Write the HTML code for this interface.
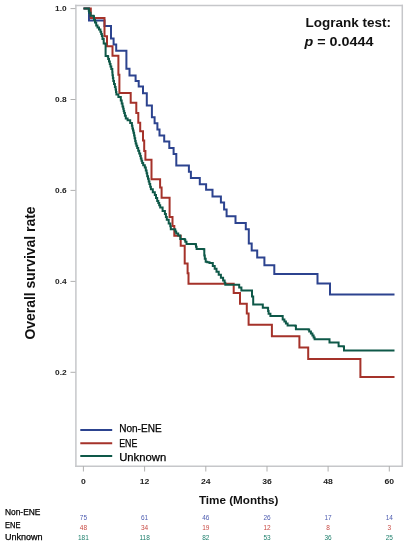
<!DOCTYPE html>
<html><head><meta charset="utf-8"><title>Kaplan-Meier survival</title>
<style>html,body{margin:0;padding:0;background:#fff;width:407px;height:550px;overflow:hidden}svg{display:block}</style>
</head><body>
<svg width="407" height="550" viewBox="0 0 407 550">
<rect width="407" height="550" fill="#fff"/>
<g stroke="#c6c7ca" stroke-width="1.5" fill="none">
<line x1="75.9" x2="75.9" y1="4.7" y2="467"/>
<line x1="75.1" x2="403" y1="5.4" y2="5.4"/>
<line x1="402.3" x2="402.3" y1="4.7" y2="467"/>
<line x1="75.1" x2="403" y1="466.3" y2="466.3"/>
</g>
<line x1="70.5" x2="75.5" y1="8.6" y2="8.6" stroke="#b0b0b0" stroke-width="1"/>
<line x1="70.5" x2="75.5" y1="99.5" y2="99.5" stroke="#b0b0b0" stroke-width="1"/>
<line x1="70.5" x2="75.5" y1="190.4" y2="190.4" stroke="#b0b0b0" stroke-width="1"/>
<line x1="70.5" x2="75.5" y1="281.4" y2="281.4" stroke="#b0b0b0" stroke-width="1"/>
<line x1="70.5" x2="75.5" y1="372.3" y2="372.3" stroke="#b0b0b0" stroke-width="1"/>
<line x1="83.4" x2="83.4" y1="466" y2="471.5" stroke="#b0b0b0" stroke-width="1"/>
<line x1="144.6" x2="144.6" y1="466" y2="471.5" stroke="#b0b0b0" stroke-width="1"/>
<line x1="205.8" x2="205.8" y1="466" y2="471.5" stroke="#b0b0b0" stroke-width="1"/>
<line x1="267" x2="267" y1="466" y2="471.5" stroke="#b0b0b0" stroke-width="1"/>
<line x1="328.1" x2="328.1" y1="466" y2="471.5" stroke="#b0b0b0" stroke-width="1"/>
<line x1="389.3" x2="389.3" y1="466" y2="471.5" stroke="#b0b0b0" stroke-width="1"/>
<g fill="none" stroke-width="2" stroke-linejoin="miter" stroke-linecap="butt">
<path d="M83.5 8.6H89V20.6H104.5V26.1H111V38.5H113.6V44.6H116.2V50.8H126.4V68.8H129.5V75.4H135.6V80.9H138.7V86.4H143V93.2H146.8V105.4H151.9V117.2H154.6V123.3H157.4V129.5H159.5V135.6H164.2V141.5H169.3V148H173.6V154H176.3V165.5H188.9V171.8H190.9V178H199.8V184.2H206.1V189.8H212.5V196.5H220.9V202.5H224.1V209.6H226.6V216.2H235.5V222.9H245.8V229.2H248.8V243.5H251.7V250.4H257.2V257.5H264.4V265.3H274.3V274H317.5V283.4H330V294.5H394.5" stroke="#2c438f"/>
<path d="M83.5 8.6H90.8V18H104.5V36.3H107V46.2H112.5V55.8H118.4V74.7H119.4V92.9H130.7V102.8H136.3V112.9H138.3V122.7H140.2V131.3H143V140.5H144.2V151H145.4V159.7H151.5V179.3H160.1V187.6H161.6V197.8H169.6V216.9H172.5V226.1H174.3V235.7H180.7V245.8H184.7V263.6H187.6V273.3H188.5V283.8H233.7V293H240V303.8H246.8V313.5H248.6V324.8H271.9V336.3H299.4V347.5H308.2V358.9H360.4V376.9H394.5" stroke="#a5322a"/>
<path d="M83.5 8.6H88.6H88.8V10.7H89.2V12.8H89.4H90.5V15.8H91.6H93.4V16.2H94V19.8H94.5H95V22.4H95.6H96.2V25.4H96.7H97.5V27.6H98.2H99V29.4H99.7H100.4V31.7H101.2V33.9H101.9V36.1H102.5V39.1H103H103.7V43.5H105.2V43.8H105.6V46.4H105.6V56H107.8V56.4H108.2V58.9H109V61.4H109.8V64H110.5V66.5H111.3V69H111.7H112.3V72.3H112.5V75.2H112.9V78H113.3V80.9H113.5H114V84H114.9V87H115.4H115.6V89.5H116V91.9H116.4V94.4H116.6H118.4V96.9H120.3H120.8V100.5H121.3H121.7V103.5H122.5V106.5H122.9H123.2V108.7H123.7V110.9H124.2V113.1H124.5H124.9V115.8H125.8V118.5H126.2H127.6V120.2H128.9H130.2V122.9H131.6H131.9V125.7H132.4V128.4H132.7H133V130.6H133.5V132.7H133.8H134.1V135.4H134.6V138.2H134.9H135.2V140.9H135.7V143.6H136H136.4V145.8H137.2V148H137.6H138.2V150.7H139.2V153.4H139.8H140.2V155.9H140.8V158.5H141.2H141.5V160.8H142.2V163.1H142.5H143.2V165.3H144.8V167.5H145.5H145.8V170.4H146.6V173.3H147.2V176.2H147.6H148V178.8H148.7V181.4H149.4V184.1H150.2V186.7H150.9V189.3H151.3H152.8V192.2H154.2H154.8V195.1H156V198H157.2V200.9H157.8H158.3V203.1H159.2V205.3H160.2V207.5H160.7H162.6V211.1H164.4H164.9V214H165.9V216.9H166.8V219.8H167.3H168.7V223.5H170H170.3V226.3H170.8V229.2H171.1H174.8V229.6H175.3V231.6H176.2V233.5H176.7H178.2V235.4H179.7H180.3V239H181H184.7V239.7H185.3V241.8H186.5V244H187.1H195.7V244.6H196V246.8H196.6V248.9H196.9H203.7V249.2H204.3V255.6H204.8V258.7H205.7V261.8H206.2H207.3V262.2H209.5V263H211.7H212.8V265.9H213.9H214.7V268.8H215.4H216.5V271.8H217.6H218.7V274.7H219.8H220.9V277.7H222H223.1V280.6H224.2H224.6V282.7H225.3V284.8H225.7H239H239.2V287.4H241.2H241.4V290.4H251.5H252V296.5H253H253.2V304.5H262.6H262.8V307.8H267.8V308.2H268.1V311H268.6V313.8H268.9H270.4V315.9H271.9H281.7V316.1H282.7V319.6H283.7H284.4V321.6H285.9V323.6H286.6H287.6V325.6H288.6H295.5V325.9H295.9V329.2H296.4H308.2V329.5H309.2V331.4H310.2H310.9V333.4H312.4V335.4H313.1H313.6V337.4H314.6V339.3H315.1H328.9H329.5V342.4H338V342.6H338.6V346.2H343.5V346.4H344V350.4H394.5" stroke="#0e5848"/>
</g>
<line x1="80.3" x2="112.2" y1="430.1" y2="430.1" stroke="#2c438f" stroke-width="2"/>
<line x1="80.3" x2="112.2" y1="443.2" y2="443.2" stroke="#a5322a" stroke-width="2"/>
<line x1="80.3" x2="112.2" y1="455.9" y2="455.9" stroke="#0e5848" stroke-width="2"/>
<g font-family="Liberation Sans, sans-serif" font-size="10.6" fill="#000" stroke="#000" stroke-width="0.25">
<text x="119.2" y="431.8" textLength="42.4" lengthAdjust="spacingAndGlyphs">Non-ENE</text>
<text x="119.2" y="446.6" textLength="18.1" lengthAdjust="spacingAndGlyphs">ENE</text>
<text x="119.2" y="460.7" textLength="47" lengthAdjust="spacingAndGlyphs">Unknown</text>
</g>
<g font-family="Liberation Sans, sans-serif" font-weight="bold" font-size="12.9" fill="#111">
<text x="305.6" y="26.6" textLength="85.3" lengthAdjust="spacingAndGlyphs">Logrank test:</text>
<text x="304.5" y="46.2" textLength="68.9" lengthAdjust="spacingAndGlyphs"><tspan font-style="italic">p</tspan> = 0.0444</text>
</g>
<text font-family="Liberation Sans, sans-serif" font-weight="bold" font-size="14.6" fill="#111" transform="translate(34.7 339.5) rotate(-90)" textLength="133.1" lengthAdjust="spacingAndGlyphs">Overall survival rate</text>
<text font-family="Liberation Sans, sans-serif" font-weight="bold" font-size="11.4" fill="#111" x="198.9" y="504.2" textLength="79.6" lengthAdjust="spacingAndGlyphs">Time (Months)</text>
<g font-family="Liberation Sans, sans-serif" font-weight="bold" font-size="6.8" fill="#222" text-anchor="end">
<text x="66.7" y="10.9" textLength="11.6" lengthAdjust="spacingAndGlyphs">1.0</text>
<text x="66.7" y="101.8" textLength="11.6" lengthAdjust="spacingAndGlyphs">0.8</text>
<text x="66.7" y="192.7" textLength="11.6" lengthAdjust="spacingAndGlyphs">0.6</text>
<text x="66.7" y="283.7" textLength="11.6" lengthAdjust="spacingAndGlyphs">0.4</text>
<text x="66.7" y="374.6" textLength="11.6" lengthAdjust="spacingAndGlyphs">0.2</text>
</g>
<g font-family="Liberation Sans, sans-serif" font-weight="bold" font-size="6.8" fill="#222" text-anchor="middle">
<text x="83.4" y="483.9" textLength="4.8" lengthAdjust="spacingAndGlyphs">0</text>
<text x="144.6" y="483.9" textLength="9.6" lengthAdjust="spacingAndGlyphs">12</text>
<text x="205.8" y="483.9" textLength="9.6" lengthAdjust="spacingAndGlyphs">24</text>
<text x="267.0" y="483.9" textLength="9.6" lengthAdjust="spacingAndGlyphs">36</text>
<text x="328.1" y="483.9" textLength="9.6" lengthAdjust="spacingAndGlyphs">48</text>
<text x="389.3" y="483.9" textLength="9.6" lengthAdjust="spacingAndGlyphs">60</text>
</g>
<g font-family="Liberation Sans, sans-serif" font-size="8.5" fill="#000" stroke="#000" stroke-width="0.25">
<text x="5" y="515.2" textLength="35.4" lengthAdjust="spacingAndGlyphs">Non-ENE</text>
<text x="5" y="527.7" textLength="15.5" lengthAdjust="spacingAndGlyphs">ENE</text>
<text x="5" y="539.5" textLength="37.6" lengthAdjust="spacingAndGlyphs">Unknown</text>
</g>
<g font-family="Liberation Sans, sans-serif" font-size="6.5" text-anchor="middle">
<text x="83.4" y="519.5" fill="#4d5cb0">75</text>
<text x="144.6" y="519.5" fill="#4d5cb0">61</text>
<text x="205.8" y="519.5" fill="#4d5cb0">46</text>
<text x="267" y="519.5" fill="#4d5cb0">26</text>
<text x="328.1" y="519.5" fill="#4d5cb0">17</text>
<text x="389.3" y="519.5" fill="#4d5cb0">14</text>
<text x="83.4" y="529.5" fill="#c84a44">48</text>
<text x="144.6" y="529.5" fill="#c84a44">34</text>
<text x="205.8" y="529.5" fill="#c84a44">19</text>
<text x="267" y="529.5" fill="#c84a44">12</text>
<text x="328.1" y="529.5" fill="#c84a44">8</text>
<text x="389.3" y="529.5" fill="#c84a44">3</text>
<text x="83.4" y="540" fill="#1e7f6c">181</text>
<text x="144.6" y="540" fill="#1e7f6c">118</text>
<text x="205.8" y="540" fill="#1e7f6c">82</text>
<text x="267" y="540" fill="#1e7f6c">53</text>
<text x="328.1" y="540" fill="#1e7f6c">36</text>
<text x="389.3" y="540" fill="#1e7f6c">25</text>
</g>
</svg>
</body></html>
